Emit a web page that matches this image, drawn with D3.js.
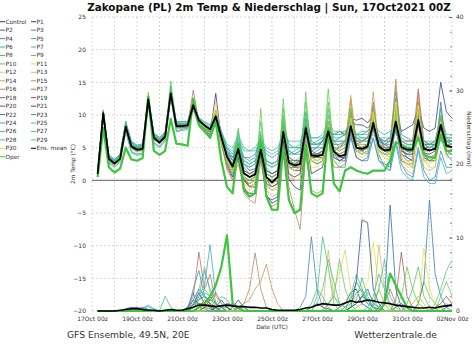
<!DOCTYPE html>
<html>
<head>
<meta charset="utf-8">
<script src="https://cdn.jsdelivr.net/npm/d3@7"></script>
<style>
body { margin: 0; background: #fff; }
svg { display: block; font-family: "DejaVu Sans", sans-serif; }
</style>
</head>
<body>
<svg id="chart" width="474" height="345"></svg>
<script>
// GFS ensemble run, 6-hourly steps from +6h to +384h
const runStart = new Date(Date.UTC(2021, 9, 17, 0));
const runEnd = new Date(Date.UTC(2021, 10, 2, 0));
const stepHours = d3.range(6, 385, 6);

const memberNames = ["Control", "P1", "P2", "P3", "P4", "P5", "P6", "P7", "P8", "P9", "P10",
  "P11", "P12", "P13", "P14", "P15", "P16", "P17", "P18", "P19", "P20",
  "P21", "P22", "P23", "P24", "P25", "P26", "P27", "P28", "P29", "P30"];

const memberColors = ["#3b2a8c", "#283f8e", "#2a64b0", "#3d84be", "#2a98b8", "#30a9b2", "#2eb59e",
  "#38bd8b", "#3fc478", "#4dc463", "#5dcb4f", "#e8e23e", "#e6cf6c", "#d8bc5a", "#cfa552",
  "#c5924f", "#b78260", "#b06d5f", "#a35a52", "#964848", "#6d4a74", "#2e4b94", "#3476bd",
  "#3c91c6", "#2eb2c6", "#42baaf", "#48b99f", "#4cbf8c", "#56c474", "#66c850", "#efe23e"];

const xTickHours = [0, 48, 96, 144, 192, 240, 288, 336, 384];
const tempTicks = [-20, -15, -10, -5, 0, 5, 10, 15, 20, 25];
const rainTicks = [0, 10, 20, 30, 40];

// 2m temperature (°C), one row per member
const tempMembers = [
  [1.2,10.5,3.5, 2.8,3.4,8.6,5.4, 4.9,5.0,12.0,6.8, 6.0,6.9,13.6,8.6, 8.5,8.3,12.2,9.0, 7.8,7.0,13.3,6.0, 2.0,0.5,4.0,-1.0, -2.5,-2.0,5.0,-2.2, -3.5,-3.0,6.0,0.2, -1.0,-1.5,7.0,1.0, 1.5,2.0,7.5,4.5, 5.0,6.0,9.5,9.2, 9.5,8.8,10.0,6.5, 5.0,4.5,8.0,4.0, 3.5,3.0,8.5,4.2, 4.0,4.5,9.0,6.0, 5.5],
  [0.9,10.1,3.0, 2.4,3.1,7.9,5.0, 4.5,4.6,12.6,6.3, 5.6,6.4,12.9,8.0, 8.0,8.2,11.2,8.8, 8.0,7.5,9.5,6.2, 3.0,1.5,4.5,0.5, -1.0,-0.5,5.5,0.0, -1.0,-0.5,7.0,2.0, 1.5,1.5,8.5,3.0, 2.5,3.0,7.0,3.5, 3.0,3.5,8.0,5.5, 6.0,6.5,9.0,6.0, 5.5,6.0,10.5,7.5, 8.0,8.5,11.0,8.0, 7.5,8.0,15.0,10.5, 9.5],
  [1.1,10.4,3.6, 2.9,3.8,8.8,5.8, 5.1,5.3,12.2,7.0, 6.3,7.2,13.0,8.8, 8.7,8.8,11.0,9.0, 8.5,8.0,9.2,7.0, 4.5,3.0,5.0,2.5, 1.5,1.8,5.5,1.0, 0.5,1.0,8.0,3.5, 3.0,3.0,9.0,4.5, 4.0,4.5,7.5,4.0, 3.0,3.5,8.5,4.5, 4.0,4.5,11.0,5.5, 4.5,5.0,12.5,5.0, 3.5,3.0,11.0,4.0, 3.0,3.5,8.0,4.0, 3.0],
  [0.8,9.8,2.8, 2.2,3.0,7.6,4.4, 4.0,4.2,11.6,5.8, 5.2,6.2,12.6,7.6, 7.8,8.0,10.8,8.4, 7.6,7.0,10.0,6.5, 3.5,2.5,5.0,2.0, 1.0,1.5,4.5,1.5, 1.0,1.5,6.0,3.0, 2.5,3.0,7.0,4.0, 4.0,4.0,6.0,3.0, 2.0,2.0,6.5,3.5, 3.0,3.5,8.0,4.0, 2.0,1.5,6.0,2.5, 1.0,0.5,5.0,1.5, 0.0,0.5,4.5,2.0, 2.0],
  [1.3,10.6,3.9, 3.2,4.0,9.0,6.0, 5.4,5.6,12.8,7.2, 6.6,7.4,13.8,9.0, 9.0,9.0,11.8,9.6, 9.0,8.5,10.5,7.5, 5.0,4.0,6.5,3.5, 3.0,3.5,7.0,3.0, 2.5,3.0,9.0,5.5, 5.0,5.0,10.5,6.0, 5.5,6.0,9.0,6.0, 5.0,5.5,10.0,6.5, 6.0,6.5,9.5,6.5, 6.0,6.5,13.5,7.0, 6.5,6.0,10.0,5.5, 5.0,5.5,9.0,6.5, 6.0],
  [1.0,10.2,3.4, 2.7,3.6,8.4,5.3, 4.8,5.0,12.0,6.6, 6.0,6.8,13.0,8.4, 8.4,8.5,11.4,9.0, 8.2,7.8,9.6,6.8, 4.0,3.0,6.0,2.5, 2.0,2.5,6.5,2.5, 2.0,2.5,8.5,4.5, 4.0,4.5,9.5,5.5, 5.5,6.0,8.5,6.5, 6.5,7.0,9.0,7.0, 7.0,7.5,9.0,7.5, 7.0,7.5,8.5,6.5, 6.0,6.0,8.0,6.0, 5.5,6.0,7.5,6.5, 6.5],
  [0.7,9.6,2.6, 2.0,2.8,7.4,4.2, 3.8,4.0,11.8,5.6, 5.0,6.0,13.0,7.4, 7.6,7.8,11.0,8.2, 7.4,6.8,9.0,5.5, 2.5,1.0,4.5,0.0, -0.5,0.0,4.0,-0.5, -1.5,-1.0,7.5,2.5, 2.0,2.5,8.0,4.0, 4.5,5.0,8.0,6.0, 6.5,7.0,8.5,7.0, 7.5,7.5,8.5,6.0, 5.0,5.0,7.5,5.0, 4.5,4.0,7.0,3.5, 3.0,3.0,6.5,4.0, 4.0],
  [1.2,10.5,3.7, 3.0,3.9,8.8,5.6, 5.2,5.4,12.6,6.9, 6.3,7.1,13.4,8.7, 8.7,8.7,11.6,9.2, 8.6,8.0,10.2,7.2, 4.8,3.6,5.5,3.0, 2.5,3.0,5.0,2.5, 2.0,2.5,6.5,4.0, 4.5,5.0,7.0,5.5, 6.0,6.5,8.0,7.0, 7.0,7.5,8.0,6.5, 6.0,6.0,8.5,5.5, 5.0,5.0,8.5,5.0, 4.5,5.0,9.5,5.5, 5.5,6.0,10.0,7.0, 7.0],
  [0.9,10.0,3.1, 2.5,3.3,8.0,4.9, 4.5,4.7,12.3,6.3, 5.7,6.5,14.5,8.2, 8.1,8.2,11.3,8.7, 8.0,7.4,9.2,6.0, 3.0,1.5,5.5,0.5, 0.0,0.5,6.0,1.0, 0.5,1.0,8.0,3.0, 2.5,3.0,9.5,3.5, 3.0,3.5,10.0,4.0, 3.5,4.0,11.0,5.0, 4.5,5.0,11.5,4.5, 4.0,4.0,12.5,4.5, 4.0,4.5,12.0,5.0, 4.5,5.0,11.0,5.5, 5.0],
  [1.0,10.3,3.2, 2.6,3.4,8.3,5.1, 4.6,4.9,12.5,6.5, 5.9,6.7,15.2,8.4, 8.3,8.4,12.5,9.0, 8.2,7.6,9.0,6.5, 3.5,2.5,8.0,1.5, 1.0,1.0,9.0,2.0, 1.0,1.5,11.0,3.5, 3.0,3.5,12.0,4.5, 4.0,4.5,9.0,5.0, 4.5,5.0,9.5,5.5, 5.0,5.5,11.0,5.5, 5.0,5.0,11.5,5.5, 5.0,5.5,11.5,5.0, 5.0,5.5,9.5,6.0, 5.5],
  [1.1,10.8,3.6, 2.9,3.7,9.0,5.5, 5.0,5.2,13.5,6.8, 6.2,7.0,14.0,8.6, 8.6,8.6,12.0,9.4, 8.6,8.0,10.5,6.0, 2.5,1.0,7.5,0.0, -1.0,-0.5,11.0,0.5, -0.5,0.0,12.5,2.0, 1.5,2.0,13.5,3.0, 2.5,3.0,14.0,4.0, 3.5,4.0,10.5,4.5, 4.0,4.5,10.0,5.0, 4.5,5.0,10.5,5.5, 5.0,5.0,10.0,5.0, 4.5,5.0,9.5,6.0, 5.5],
  [1.0,10.6,3.0, 2.3,3.0,8.6,4.8, 4.4,4.6,12.8,6.2, 5.6,6.4,13.0,8.0, 8.0,8.2,11.8,8.6, 7.8,7.2,12.0,6.0, 2.5,1.0,3.5,-0.5, -1.0,-0.5,3.5,-1.0, -1.5,-1.0,5.5,1.0, 0.5,1.0,6.5,2.0, 2.0,2.5,7.0,3.0, 2.5,3.0,8.0,4.0, 3.5,4.0,10.0,3.5, 2.5,2.5,12.0,3.0, 2.0,2.0,13.0,3.5, 3.0,3.5,10.0,4.5, 4.0],
  [1.2,10.4,3.3, 2.6,3.3,7.8,5.0, 4.6,4.8,12.2,6.4, 5.8,6.6,13.2,8.2, 8.2,8.3,11.3,8.8, 8.1,7.6,9.0,5.5, 2.0,0.5,3.0,-0.5, -1.5,-1.0,4.0,-1.0, -1.5,-1.5,6.0,1.0, 0.0,0.0,7.0,3.0, 3.0,3.5,8.5,5.0, 5.0,5.5,10.0,6.0, 6.0,6.5,9.5,6.0, 5.0,4.5,9.0,4.0, 3.0,2.5,8.0,3.0, 2.0,2.0,7.5,3.5, 3.5],
  [0.8,10.0,3.0, 2.4,3.2,7.8,4.8, 4.3,4.5,12.0,6.2, 5.6,6.5,13.0,8.0, 8.0,8.1,11.0,8.5, 7.8,7.2,10.0,6.0, 2.5,1.0,4.0,0.0, -0.5,0.0,5.0,0.5, 0.0,0.5,7.0,2.5, 2.0,2.0,8.0,4.0, 4.0,4.5,9.0,5.5, 5.5,6.0,12.0,6.0, 5.5,5.5,9.0,4.5, 3.5,3.0,8.0,2.5, 1.5,1.0,7.0,2.0, 1.5,2.0,8.0,4.0, 4.5],
  [1.1,10.2,3.4, 2.7,3.5,8.1,5.2, 4.7,4.9,12.4,6.5, 5.9,6.7,13.2,8.3, 8.3,8.4,11.6,8.9, 8.2,7.7,10.5,6.0, 1.5,0.0,2.5,-1.0, -2.0,-1.5,4.0,-1.5, -2.5,-2.0,6.5,0.5, 0.0,0.0,7.0,3.5, 3.5,4.0,9.0,5.0, 5.0,5.5,13.0,5.5, 5.0,5.5,10.5,5.0, 4.5,4.0,11.5,3.5, 2.5,2.0,12.0,3.0, 3.0,3.5,10.0,5.0, 5.0],
  [1.0,10.1,3.2, 2.5,3.3,8.2,5.0, 4.6,4.8,12.3,6.4, 5.8,6.6,13.1,8.2, 8.2,8.3,11.4,8.7, 8.0,7.5,10.8,6.5, 3.0,1.5,4.5,0.5, 0.0,0.5,4.5,0.5, 0.0,0.5,8.0,2.5, 2.0,2.5,8.0,4.0, 4.0,4.5,8.0,4.5, 4.0,4.5,12.5,5.5, 5.0,5.0,13.5,5.0, 4.0,3.5,14.5,4.0, 3.0,3.0,13.5,3.5, 3.0,3.5,9.0,4.5, 4.5],
  [0.9,10.0,3.0, 2.4,3.2,8.0,5.0, 4.5,4.7,12.1,6.3, 5.7,6.5,13.0,8.1, 8.1,8.2,11.2,8.6, 7.9,7.3,10.2,5.5, 2.0,0.0,3.5,-2.0, -3.0,-3.5,3.0,-2.5, -4.0,-3.5,5.5,-1.0, -4.5,-7.5,4.0,-1.5, -2.0,-1.5,6.5,2.0, 2.0,2.5,10.5,4.5, 4.0,4.5,12.0,5.0, 4.5,4.5,15.5,5.0, 4.0,3.5,12.0,4.0, 3.5,4.0,9.0,5.0, 5.0],
  [1.1,10.3,3.3, 2.7,3.5,8.3,5.2, 4.8,5.0,12.5,6.6, 6.0,6.8,13.4,8.4, 8.4,8.5,13.8,8.9, 8.2,7.7,9.5,6.2, 3.5,2.0,5.0,1.0, 0.5,1.0,5.5,1.0, 0.5,1.0,6.5,2.0, 1.5,1.5,7.0,3.5, 3.5,4.0,7.5,4.5, 4.0,4.5,9.0,6.0, 6.0,6.5,9.0,6.5, 6.0,6.5,8.0,6.0, 6.0,6.0,14.0,6.0, 5.5,6.0,9.5,6.0, 6.0],
  [1.0,10.2,3.2, 2.6,3.4,8.2,5.1, 4.7,4.8,12.4,6.5, 5.8,6.7,13.3,8.3, 8.3,8.4,11.5,8.8, 8.0,7.5,9.8,6.0, 3.0,1.5,4.5,0.0, -0.5,0.0,4.5,0.0, -0.5,0.0,7.5,2.5, 2.0,2.5,8.5,4.0, 3.5,4.0,7.0,4.0, 3.5,4.0,7.5,4.5, 4.5,5.0,8.5,5.5, 5.0,5.0,9.0,5.0, 4.5,4.5,9.0,4.5, 4.5,5.0,8.5,5.5, 5.5],
  [1.1,10.4,3.4, 2.8,3.6,8.4,5.3, 4.9,5.0,12.6,6.7, 6.0,6.9,13.5,8.5, 8.5,8.6,11.7,9.0, 8.3,7.8,10.0,6.8, 4.0,2.5,5.0,1.5, 1.0,1.5,5.0,1.5, 1.0,1.5,7.0,3.0, 3.0,3.0,8.0,4.0, 4.0,4.0,7.0,4.0, 3.5,3.5,7.5,5.0, 5.0,5.5,8.0,5.0, 4.5,4.5,8.5,5.0, 4.5,5.0,9.0,5.5, 5.5,5.5,8.0,5.5, 5.0],
  [0.9,10.1,3.1, 2.5,3.3,8.1,5.0, 4.6,4.7,12.2,6.4, 5.7,6.6,13.1,8.2, 8.2,8.2,11.3,8.7, 8.0,7.6,9.6,6.2, 3.0,1.5,4.0,0.0, -1.0,-1.0,4.5,-0.5, -1.0,-0.5,7.0,2.0, 2.0,2.0,7.5,3.5, 3.5,3.5,7.0,4.0, 3.5,3.5,8.0,5.0, 4.5,5.0,8.5,5.0, 4.5,4.5,9.0,5.0, 4.5,4.5,9.0,5.0, 4.5,5.0,8.0,5.5, 5.0],
  [1.0,10.2,3.2, 2.6,3.4,8.2,5.1, 4.6,4.8,12.3,6.5, 5.8,6.7,13.2,8.3, 8.3,8.4,11.4,8.8, 8.1,7.6,9.6,6.0, 2.5,0.5,3.5,-1.5, -2.0,-2.0,4.0,-2.5, -3.0,-2.5,6.0,1.0, 0.5,1.0,8.0,4.5, 5.0,6.0,7.5,7.0, 7.5,7.0,9.0,8.5, 8.5,8.0,9.0,6.5, 5.5,5.0,8.0,4.5, 4.0,4.0,8.5,5.0, 5.0,5.5,8.5,6.0, 6.0],
  [1.2,10.5,3.5, 2.9,3.7,8.5,5.4, 5.0,5.1,12.7,6.8, 6.1,7.0,13.5,8.6, 8.5,8.6,11.8,9.1, 8.4,7.9,10.0,6.5, 3.5,2.0,4.5,1.0, 0.5,1.0,5.0,1.5, 1.0,1.5,7.5,3.0, 2.5,3.0,8.0,4.0, 4.0,4.5,6.5,3.5, 3.0,3.0,7.0,3.5, 3.0,3.0,6.5,3.0, 2.5,2.0,9.0,3.0, 2.5,2.5,10.0,3.5, 3.0,3.0,12.0,4.5, 4.0],
  [0.9,10.0,3.1, 2.5,3.3,8.0,5.0, 4.5,4.7,12.1,6.3, 5.7,6.6,13.0,8.1, 8.1,8.2,11.2,8.6, 7.9,7.4,9.4,6.5, 4.0,3.5,5.0,3.5, 3.5,4.0,6.0,4.0, 3.5,4.0,6.5,4.5, 4.0,4.0,6.0,5.0, 5.0,5.0,6.0,5.5, 5.5,6.0,7.5,6.5, 6.5,6.5,7.0,6.0, 5.5,5.5,7.5,5.5, 5.0,5.0,8.5,5.5, 5.5,5.5,8.0,6.0, 6.0],
  [1.3,10.7,3.8, 3.1,4.0,8.8,5.9, 5.3,5.5,12.9,7.1, 6.5,7.3,13.7,8.9, 8.9,9.0,11.9,9.5, 8.8,8.3,10.3,7.2, 4.5,3.5,5.5,3.0, 2.5,3.0,5.0,3.0, 2.5,3.0,6.5,4.0, 4.0,4.5,6.5,5.5, 5.5,6.0,7.0,6.0, 6.0,6.0,7.5,5.0, 4.5,4.0,6.5,3.0, 2.0,1.5,5.5,1.5, 0.5,0.0,4.5,0.5, -0.5,-0.5,3.5,1.0, 1.5],
  [1.0,10.3,3.3, 2.7,3.5,8.2,5.2, 4.7,4.9,12.4,6.5, 5.9,6.7,13.2,8.3, 8.3,8.4,11.5,8.8, 8.1,7.7,9.9,7.0, 5.0,4.5,6.5,4.5, 4.5,5.0,6.5,5.0, 4.5,5.0,7.0,6.0, 6.0,6.0,7.5,6.5, 6.5,6.5,8.0,7.0, 7.0,7.0,8.0,7.0, 6.5,6.5,7.5,6.5, 6.5,6.5,7.0,6.0, 5.5,5.5,6.5,5.5, 5.0,5.0,6.0,5.5, 5.5],
  [1.1,10.4,3.4, 2.8,3.6,8.3,5.3, 4.8,5.0,12.5,6.6, 6.0,6.8,13.4,8.4, 8.4,8.5,11.6,8.9, 8.2,7.8,10.4,7.5, 5.5,5.0,7.0,5.0, 4.5,4.5,6.0,4.5, 4.0,4.5,6.5,5.0, 5.0,5.0,7.0,5.5, 5.5,5.5,7.0,6.0, 6.0,6.0,7.5,6.0, 6.0,6.0,7.5,6.0, 6.0,6.0,8.0,6.0, 5.5,5.5,8.5,6.0, 6.0,6.0,7.0,6.0, 6.0],
  [0.9,10.1,3.1, 2.5,3.3,8.1,5.0, 4.6,4.8,12.2,6.4, 5.7,6.6,13.1,8.2, 8.2,8.3,11.3,8.7, 8.0,7.5,9.7,6.8, 4.5,3.5,6.0,2.5, 2.0,2.5,6.5,3.0, 2.5,3.0,8.5,5.0, 5.0,5.5,9.0,6.5, 6.5,7.0,9.0,7.5, 7.5,7.5,9.0,7.0, 7.0,7.0,8.5,6.5, 6.0,6.0,9.5,6.0, 5.5,5.5,9.0,6.0, 5.5,6.0,8.5,6.5, 6.5],
  [1.0,10.2,3.2, 2.6,3.4,8.2,5.1, 4.7,4.8,12.3,6.5, 5.8,6.7,13.2,8.3, 8.3,8.4,11.4,8.8, 8.1,7.6,9.8,6.0, 2.5,1.0,5.0,0.5, 0.0,0.5,6.0,0.5, 0.0,0.5,9.5,2.5, 2.0,2.5,10.5,3.5, 3.0,3.5,11.0,4.0, 3.5,4.0,10.0,4.5, 4.0,4.5,9.5,4.5, 4.0,4.5,11.5,5.0, 4.5,5.0,10.5,5.0, 4.5,5.0,9.0,5.5, 5.0],
  [1.1,10.5,3.5, 2.9,3.7,8.5,5.4, 5.0,5.1,12.7,6.8, 6.1,7.0,13.6,8.6, 8.6,8.7,11.8,9.1, 8.4,7.9,10.0,6.5, 3.0,1.5,6.0,0.5, 0.0,0.5,7.5,1.0, 0.5,1.0,10.0,3.0, 2.5,3.0,9.0,4.0, 3.5,4.0,12.0,5.0, 4.5,5.0,11.0,5.5, 5.5,5.5,10.5,5.5, 5.0,5.0,10.0,5.0, 4.5,5.0,10.5,5.5, 5.0,5.5,10.0,6.0, 6.0],
  [1.0,10.3,3.3, 2.7,3.5,8.2,5.2, 4.7,4.9,12.4,6.5, 5.9,6.7,13.2,8.3, 8.3,8.4,11.5,8.8, 8.1,7.6,10.5,6.0, 3.0,1.5,4.5,0.5, -0.5,0.0,5.0,0.0, -0.5,0.0,7.0,2.0, 1.5,2.0,8.0,3.5, 3.0,3.5,7.5,4.0, 3.5,4.0,9.5,4.5, 4.0,4.5,10.5,4.5, 3.5,3.0,12.0,3.5, 2.5,2.5,11.5,3.0, 2.5,3.0,9.0,4.5, 4.5]
];

const tempOper = [0.5,8.0,2.0, 1.2,1.8,5.0,3.2, 3.0,3.4,12.8,4.5, 3.9,4.5,9.4,5.6, 5.5,5.3,12.5,8.5, 7.5,6.5,9.0,3.0, -1.0,-2.0,5.5,-1.5, -2.5,-2.0,6.0,-2.5, -4.5,-4.5,5.0,-3.0, -5.0,-4.5,5.5,-2.0, -2.5,-2.0,8.0,-0.5, -1.7,1.5,2.0,1.5, 1.2,1.0,1.5,1.5, 1.5,3.0,5.8,5.5, 5.0,4.5,6.5,4.0, 3.5,3.5,7.0,4.5, 4.5];

const tempMean = [1.0,10.3,3.3, 2.6,3.3,8.2,5.2, 4.7,4.8,12.4,6.5, 5.8,6.7,13.3,8.3, 8.3,8.4,11.5,9.2, 8.4,7.8,9.8,6.6, 3.6,2.1,4.8,1.1, 0.5,0.9,4.7,0.5, -0.3,0.5,7.4,2.7, 2.3,2.5,8.0,3.8, 3.7,3.9,7.5,4.4, 3.7,3.9,8.3,5.0, 4.8,5.2,8.8,5.2, 4.6,4.7,9.0,5.1, 4.7,4.7,9.2,4.8, 4.6,4.8,8.5,5.3, 5.1];

// 6-hourly precipitation (mm), one row per member
const rainMembers = [
  [0,0,0, 0,0,0.3,0.5, 0.4,0.2,0,0, 0,0,0,0, 0,0.5,1.5,1, 0.5,0.3,0,0.5, 1,0.8,0.3,0, 0,0,0,0, 0,0,0,0, 0,0,0,0.5, 1,0.5,0.3,0, 0,0,0.5,1, 2,1.5,0.5,0.3, 0,0,0,0, 0,0,0,0, 0,0,0,0, 0],
  [0,0,0, 0,0,0,0.2, 0.3,0,0,0, 0,0,0,0, 0,0.3,0.8,2.5, 1,0.5,0.3,0, 0,0.5,1.5,0.5, 0,0,0,0, 0,0,0,0, 0,0,0,0, 0,0,0,0, 0.5,1,2.5,3, 1,0.5,0,0, 0,0,0.5,1, 0.5,0,0,0, 0,0,0,0.5, 1],
  [0,0,0, 0,0,0,0, 0.2,0.5,0.2,0, 0,0,0,0, 0,0,1,1.5, 2,1,0.5,0, 0,0,0,0, 0,0,0,0, 0,0,0,0, 0,0,0,0, 0,0,0,0, 0,0,0.5,1, 2,3,1,0.5, 1.5,14.4,3,0.5, 0,0,0,0, 0,0,0,0, 0],
  [0,0,0, 0,0,0,0, 0,0,0,0, 0,0,0,0, 0,0.5,2.5,0.5, 0.3,0,0,0, 0,0,0,0, 0,0,0,0, 0,0,0,0, 0,0.5,2,10.1, 3,0.5,0,0, 0,0,0,0, 0,0,0,0, 0,0,0,0, 0,0,0,0, 0,0,0,0, 0],
  [0,0,0, 0,0,0,0, 0,0,0,0, 0,0,0,0, 0,0,3,5.5, 2,1,0.5,0, 0,0,0.5,0.5, 0,0,0,0, 0,0,0,0, 0,0,0,0, 0,0,0,0, 0,0.5,1.5,4, 2.5,1,0.5,0, 0,0,0,0, 0,0,0,0, 0,0,0,0, 0],
  [0,0,0, 0,0,0,0, 0,0.4,0.6,0.2, 0,0,0,0, 0,0,1,2, 3.5,9,2,1, 0.5,0,0,0, 0,0,0,0, 0,0,0,0, 0,0,0,0, 0,0,0,0, 0,0,0,0, 0,0,0,0, 0,0,0,0, 0,0,0,0, 0,0,0,0, 0],
  [0,0,0, 0,0,0,0, 0,0,0,0, 0,0,0,0, 0,0,0.5,1.5, 2.5,2,1,0.5, 0.5,1,0.5,0, 0,0,0,0, 0,0,0,0, 0,0,0,0, 0,0,1,2, 1,0.5,1,2.5, 3,1.5,0.5,0, 0,0,0,0, 0,0,0,0, 0,0,0,0, 0],
  [0,0,0, 0,0,0,0, 0,0,0,0, 0,0,0,0, 0,0,0,0.5, 1,1.5,1,0.5, 0,0,0,0, 0,0,0,0, 0,0,0,0, 0,0,0,1, 3,2,0.5,0, 0,0,0.5,1.5, 4.5,2,0.5,0, 0,0,0,0, 0,0,0,0, 0,0,0.5,1, 0.5],
  [0,0,0, 0,0,0,0, 0,0,0,0, 0,2,0.5,0, 0,0,0.5,1, 0.5,0,0,0, 0,0,0,0, 0,0,0,0, 0,0,0,0, 0,0,0,0, 2,10.1,6,1, 0,0,0,0, 0,0,1,3, 1,0,0,0, 0,0,0,0, 0,0,0,0, 0],
  [0,0,0, 0,0,0,0, 0,0,0,0, 0,0,0,0, 0,0,0,0.5, 1.5,1,0.5,0, 0,0,0,0, 0,0,0,0, 0,0,0,0, 0,0,0,0, 0,0,0,0, 0,0,2,5, 3,1,0.5,0, 0,0,0,0, 1,3,6,2, 0.5,0,0,0, 0],
  [0,0,0, 0,0,0,0, 0,0,0,0, 0,0,0,0, 0,0,0.5,1.5, 3,2,0.5,0, 0.5,0,0,0, 0,0,0,0, 0,0,0,0, 0,0,0,0, 0,0,0,0, 0,0,0,0.5, 1,2.5,1.5,0.5, 0,0,0,0, 0,0,1,4, 2,1,0.5,0, 0],
  [0,0,0, 0,0,0,0, 0,0,0,0, 0,0,0,0, 0,0,0.5,1, 0.5,0.5,0.3,0, 0,0,0,0, 0,0,0,0, 0,0,0,0, 0,0,0,0, 0,0,0,0, 0,0,1,2, 3,4,9.4,3, 1,0.5,0,0, 0,0,0,0, 0,0,0,0, 0],
  [0,0,0, 0,0,0,0, 0,0,0,0, 0,0,0,0, 0,0,0,0.5, 1.5,0.5,0,0, 0,0,0,0, 0,0,0,0, 0,0,0,0, 0,0,0,0, 0,0,1,3, 5,8.3,3,1, 0,0,0,0, 0,0,0,0, 0,0,0,0, 0,0,0,0, 0],
  [0,0,0, 0,0,0,0, 0,0,0,0, 0,0,0,0, 0,0,0,0, 0.5,1,0.5,0, 0,0,0,0, 0,0,0,0, 0,0,0,0, 0,0,0,0, 0,0,8.3,2, 0.5,0,0,0, 0,0,0,9, 3,0.5,0,0, 0,0,0,0, 0,0,0,0, 0],
  [0,0,0, 0,0,0,0, 0,0,0,0, 0,0,0,0, 0,0,1,3, 6,2.5,1,0.5, 0,0,0,0, 0,0,0,0, 0,0,0,0, 0,0,0,0, 0,0,0,0, 0,0,0,0, 0,0,0,0, 0,0,0,0, 0.5,1,2,1, 0,0,0,0, 0],
  [0,0,0, 0,0,0,0, 0,0,0,0, 0,0,0,0, 0,0,0,0.5, 1,0.5,0,0, 0,0,0.5,1, 1.5,3,4,6.4, 3,1,0,0, 0,0,0,0, 0,0,0,0, 0,0,0,0, 0,0,0,0, 0,0,0,0, 0,0,0,0, 0,0,0,0, 0],
  [0,0,0, 0,0,0,0, 0,0,0,0, 0,0,0,0, 0,0,0,0.5, 1.5,1,0.5,0, 0,0,0.5,1, 3,7.9,3,0.5, 0,0,0,0, 0,0,0,0, 0,0,0,0, 0,0,0,0, 0,0,0,0, 0,0,0,0, 0,0,0,0, 0,0,0,0, 0],
  [0,0,0, 0,0,0,0, 0,0,0,0, 0,0,0,0, 0,0.5,2,8, 3,5,1,0.5, 0,0,0,0, 0,0,0,0, 0,0,0,0, 0,0,0,0, 0,0,0,0, 0,0,0,0, 0,0,0,0, 1,3,1,0, 0,0,0,0, 0,0,0,0, 0],
  [0,0,0, 0,0,0,0, 0,0,0,0, 0,0,0,0, 0,0,0,0, 0.5,1.5,2.5,1, 0.5,0,0,0, 0,0,0,0, 0,0,0,0, 0,0,0,0, 0,0,0,0, 0,0,0,0, 0,0,0,0, 0,0,1.5,8, 2,0.5,0,0, 0,0,0,0, 0],
  [0,0,0, 0,0,0,0, 0,0,0,0, 0,0,0,0, 0,0,0.5,1, 1,0.5,0,0, 0,0,0,0, 0,0,0,0, 0,0,0,0, 0,0,0,0, 0,0,0,0, 0,0,0,0, 0,0,0,0, 0,0,0,0, 0,0,0,0, 0,0.5,1,2, 1],
  [0,0,0, 0,0,0,0.3, 0.5,0.3,0,0, 0,0,0,0, 0,0,0,0, 0.5,1,0.5,0, 0,0,0,0, 0,0,0,0, 0,0,0,0, 0,0,0,0, 0,0,0,0, 0,0,0,0, 0,0,0,0, 0,0,0,0, 0,0,0,0, 0,0,0,0, 0],
  [0,0,0, 0,0,0,0, 0,0,0,0, 0,0,0,0, 0,0,0,0, 0,0,0.5,1.5, 0.5,0,0,0, 0,0,0,0, 0,0,0,0, 0,0,0,0, 0,0,0,0, 0,0,0.5,4, 12.4,12,3,1, 0,0,0,0, 0,0,0,0, 0,0,0,0, 0],
  [0,0,0, 0,0,0,0, 0,0,0,0, 0,0,0,0, 0,0,0,0, 0,0,0,0, 0,0,0,0, 0,0,0,0, 0,0,0,0, 0,0,0,0, 0,0,0,0, 0,0,0,0, 0,0,0,0, 0,0,0,0, 0,0,1,4, 15.1,5,2,0.5, 0],
  [0,0,0, 0,0,0,0, 0,0,0,0, 0,0,0,0, 0,0,1.5,3, 2,1.5,1,0.5, 1,0.5,0,0, 0,0,0,0, 0,0,0,0, 0,0,0,0, 0,0,0,0, 0,0,0,0, 0,0,0,0, 0,0,0,0, 0,0,0,0, 0,0,0,0, 0],
  [0,0,0, 0,0,0,0, 0,0.3,0.8,0.3, 0,0,0,0, 0,0,0.5,2, 5.5,3,1,0.5, 0,0,0,0, 0,0,0,0, 0,0,0,0, 0,0,0,0, 0,0,0,0, 0,0,0,0, 0,0,0,0, 0,0,0,0, 0,0,0,0, 0,0,0,0, 0],
  [0,0,0, 0,0,0,0, 0,0,0,0, 0,0,0,0, 0,0,0,0, 0,0,1,2, 1.5,0.5,0,0, 0,0,0,0, 0,0,0,0, 0,0,0,0, 0,0,0,0, 0,0,0,0, 0,0.5,2,5, 3,1,0,0, 0,0,0,0, 0,0,0,0, 0],
  [0,0,0, 0,0,0,0, 0,0,0,0, 0,0,0,0, 0,0,0,0, 0,0.5,0.5,0, 0,0,0,0, 0,0,0,0, 0,0,0,0, 0,0,0,0, 0,0,0,0, 0,0,0,0, 0,0,0,0, 0,0,0,0, 0,0,0,0, 0,0,0,0, 0],
  [0,0,0, 0,0,0,0, 0,0,0,0, 0,0,0,0, 0,0,0,0, 1,2,1,0, 0,0,0,0, 0,0,0,0, 0,0,0,0, 0,0,0,0, 0,0,0,0, 0,0,0,0, 0,0,0.5,3, 7,2,0.5,0, 0,0,0,0, 0,0,0,0, 0],
  [0,0,0, 0,0,0,0, 0,0,0,0, 0,0,0,0, 0,0,0,0, 0,0,0,0, 0,0,0,0, 0,0,0,0, 0,0,0,0, 0,0,0,0, 1,3,7,4, 1,0.5,0,0, 0,0,0,0, 0,0,0,0, 0,0,0,0, 0,1,3,5.5, 6.9],
  [0,0,0, 0,0,0,0, 0,0,0,0, 0,0,0,0, 0,0,0,0, 0,0,0,0, 0,0,0,0, 0,0,0,0, 0,0,0,0, 0,0,0,0, 0,0,1,2, 7,3,1,0, 0,0,0,0, 0,0,0.5,2, 6,3,1,0.5, 0,0,2,4, 2],
  [0,0,0, 0,0,0,0, 0,0,0,0, 0,0,0,0, 0,0,0,0, 0,0.5,2,1, 0,0,0,0, 0,0,0,0, 0,0,0,0, 0,0,0,0, 0,0,0,0, 0,0,0,0, 0,0,0,0, 0,0,0,0, 0,0,0,8.5, 3,1,0,0, 0]
];

const rainOper = [0,0,0, 0,0,0,0, 0,0,0,0, 0,0,0,0, 0,0,0,0.5, 1,2,3.5,6, 10.3,1,0.5,0, 0,0,0,0, 0,0,0,0, 0,0,0,0, 0,0,0,0, 0,0,0,0, 0,0,0,0, 1,5.1,3.5,2, 0.5,0,0,0, 0,0,0,0, 0];

const rainMean = [0,0,0, 0,0.1,0.2,0.3, 0.3,0.2,0.1,0.1, 0,0.1,0.2,0.1, 0.1,0.3,0.5,0.8, 0.8,0.7,0.6,0.7, 0.8,0.7,0.6,0.6, 0.5,0.5,0.4,0.4, 0.2,0.1,0.1,0.1, 0.1,0.2,0.4,0.5, 0.8,1,0.9,0.8, 0.8,1.1,1.4,1.2, 1.3,1.5,1.4,1.2, 1.1,1,0.8,0.7, 0.6,0.5,0.4,0.4, 0.5,0.4,0.6,0.7, 0.8];

const operColor = "#3ec43e";

const svg = d3.select("#chart");
const plot = {left: 92, right: 452, top: 17, bottom: 311};

const times = stepHours.map(h => d3.utcHour.offset(runStart, h));
const x = d3.scaleUtc().domain([runStart, runEnd]).range([plot.left, plot.right]);
const yTemp = d3.scaleLinear().domain([-20, 25]).range([plot.bottom, plot.top]);
const yRain = d3.scaleLinear().domain([0, 40]).range([plot.bottom, plot.top]);

// dashed grid
const grid = svg.append("g")
  .attr("stroke", "#c4c4c4")
  .attr("stroke-width", 0.7)
  .attr("stroke-dasharray", "2,2");

grid.selectAll(".vgrid")
  .data(d3.utcDay.range(runStart, d3.utcDay.offset(runEnd, 1)))
  .join("line")
  .attr("x1", d => x(d)).attr("x2", d => x(d))
  .attr("y1", plot.top).attr("y2", plot.bottom);

grid.selectAll(".hgrid")
  .data(tempTicks)
  .join("line")
  .attr("x1", plot.left).attr("x2", plot.right)
  .attr("y1", d => yTemp(d)).attr("y2", d => yTemp(d));

// freezing line
svg.append("line")
  .attr("x1", plot.left).attr("x2", plot.right)
  .attr("y1", yTemp(0)).attr("y2", yTemp(0))
  .attr("stroke", "#555").attr("stroke-width", 0.9);

// left axis
const leftAxis = svg.append("g")
  .attr("transform", `translate(${plot.left},0)`)
  .call(d3.axisLeft(yTemp).tickValues(tempTicks).tickSize(0).tickPadding(6));
leftAxis.select(".domain").remove();

// right axis with minor ticks
const rightAxis = svg.append("g")
  .attr("transform", `translate(${plot.right},0)`)
  .call(d3.axisRight(yRain).tickValues(rainTicks).tickSize(-3).tickPadding(4));
rightAxis.select(".domain").remove();

const rightMinor = svg.append("g")
  .attr("transform", `translate(${plot.right},0)`)
  .call(d3.axisRight(yRain).tickValues(d3.range(0, 41, 2)).tickSize(-2).tickFormat(""));
rightMinor.select(".domain").remove();

// bottom axis
const bottomAxis = svg.append("g")
  .attr("transform", `translate(0,${plot.bottom})`)
  .call(d3.axisBottom(x)
    .tickValues(xTickHours.map(h => d3.utcHour.offset(runStart, h)))
    .tickFormat(d3.utcFormat("%d%b %Hz"))
    .tickSize(0).tickPadding(6));
bottomAxis.select(".domain").remove();

svg.selectAll(".tick text")
  .attr("font-size", 6)
  .attr("font-family", "DejaVu Sans")
  .attr("fill", "#333");
svg.selectAll(".tick line").attr("stroke", "#444").attr("stroke-width", 0.6);

// lines
const tempLine = d3.line().x((d, i) => x(times[i])).y(d => yTemp(d));
const rainLine = d3.line().x((d, i) => x(times[i])).y(d => yRain(d));

const series = svg.append("g").attr("fill", "none").attr("stroke-linejoin", "round");

series.selectAll(".rain")
  .data(rainMembers)
  .join("path")
  .attr("d", rainLine)
  .attr("stroke", (d, i) => memberColors[i])
  .attr("stroke-width", 0.9)
  .attr("opacity", 0.85);

series.selectAll(".temp")
  .data(tempMembers)
  .join("path")
  .attr("d", tempLine)
  .attr("stroke", (d, i) => memberColors[i])
  .attr("stroke-width", 0.9)
  .attr("opacity", 0.85);

series.append("path").attr("d", rainLine(rainOper))
  .attr("stroke", operColor).attr("stroke-width", 2.2);
series.append("path").attr("d", tempLine(tempOper))
  .attr("stroke", operColor).attr("stroke-width", 2.2);

series.append("path").attr("d", rainLine(rainMean))
  .attr("stroke", "#000").attr("stroke-width", 1.6);
series.append("path").attr("d", tempLine(tempMean))
  .attr("stroke", "#000").attr("stroke-width", 1.8);

// legend, two columns
const legendItems = memberNames.map((n, i) => ({name: n, color: memberColors[i]}))
  .concat([{name: "Ens. mean", color: "#000"}, {name: "Oper", color: operColor}]);

const legend = svg.append("g").attr("font-size", 5.8).attr("fill", "#333");
const entry = legend.selectAll("g")
  .data(legendItems)
  .join("g")
  .attr("transform", (d, i) => `translate(${(i % 2) * 31},${21.7 + Math.floor(i / 2) * 8.44})`);
entry.append("line")
  .attr("x1", 0).attr("x2", 5)
  .attr("stroke", d => d.color).attr("stroke-width", 1);
entry.append("text")
  .attr("x", 5.5).attr("dy", "0.35em")
  .text(d => d.name);

// titles
svg.append("text")
  .attr("x", 269).attr("y", 10.5)
  .attr("text-anchor", "middle")
  .attr("font-weight", "bold").attr("font-size", 10.4).attr("fill", "#111")
  .text("Zakopane  (PL)  2m Temp & Niederschlag | Sun, 17Oct2021 00Z");

svg.append("text")
  .attr("transform", `translate(75,${(plot.top + plot.bottom) / 2}) rotate(-90)`)
  .attr("text-anchor", "middle").attr("font-size", 5.8).attr("fill", "#333")
  .text("2m Temp (°C)");

svg.append("text")
  .attr("transform", "translate(467,139) rotate(90)")
  .attr("text-anchor", "middle").attr("font-size", 5.8).attr("fill", "#333")
  .text("Niederschlag (mm)");

svg.append("text")
  .attr("x", (plot.left + plot.right) / 2).attr("y", 329)
  .attr("text-anchor", "middle").attr("font-size", 5.8).attr("fill", "#333")
  .text("Date (UTC)");

svg.append("text")
  .attr("x", 67).attr("y", 338)
  .attr("font-size", 9.2).attr("fill", "#333")
  .text("GFS Ensemble, 49.5N, 20E");

svg.append("text")
  .attr("x", 437).attr("y", 338)
  .attr("text-anchor", "end")
  .attr("font-size", 9.2).attr("fill", "#333")
  .text("Wetterzentrale.de");
</script>
</body>
</html>
